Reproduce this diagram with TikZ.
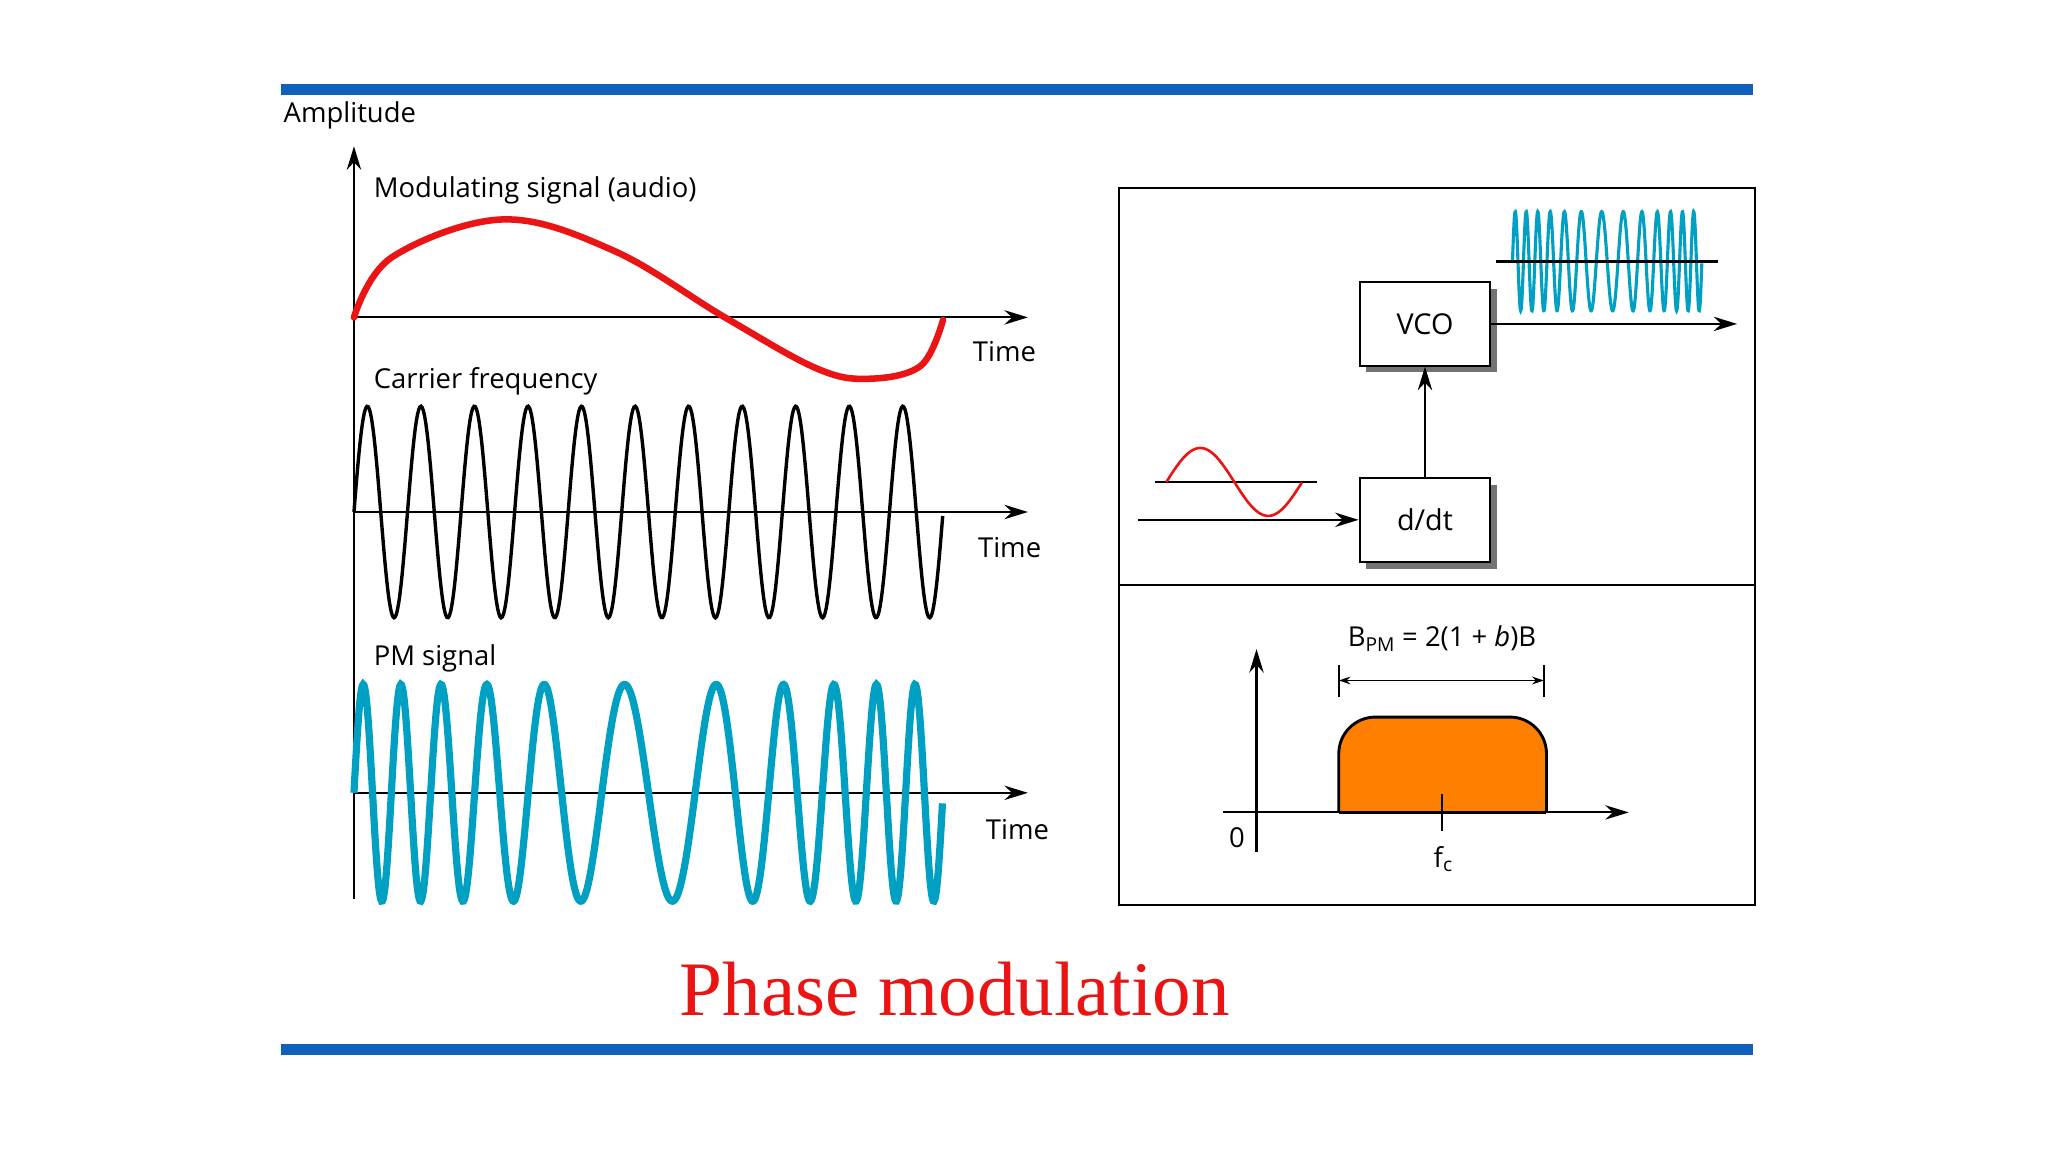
\documentclass[tikz,border=0pt]{standalone}
\usepackage{fontspec}
\setmainfont{Open Sans}
\newfontfamily\titlefont{Liberation Serif}
\usetikzlibrary{arrows.meta}
\definecolor{barblue}{RGB}{16,96,190}
\definecolor{pmcyan}{RGB}{0,160,195}
\definecolor{sigred}{RGB}{235,20,20}
\definecolor{specorange}{RGB}{255,128,0}
\tikzset{
 lbl/.style={font=\fontsize{21}{25}\selectfont, inner sep=0pt},
 axis/.style={line width=1.6pt, -{Stealth[length=18pt,width=11pt]}},
 blk/.style={draw, line width=1.6pt, fill=white, font=\fontsize{22}{26}\selectfont, minimum width=100pt, minimum height=64pt},
 shadow/.style={fill=black!55}
}
\begin{document}
\begin{tikzpicture}[x=1pt,y=-1pt]
\useasboundingbox (0,0) rectangle (1568,882);
\fill[white] (0,0) rectangle (1568,882);
% bars
\fill[barblue] (215,64) rectangle (1342,73);
\fill[barblue] (215,799) rectangle (1342,808);
\node[lbl, anchor=west] (amp) at (217,88) {Amplitude};
\coordinate (ybot) at (271,688); \coordinate (ytop) at (271,112);
\draw[axis] (ybot) -- (ytop);
% modulating
\node[lbl, anchor=west] (modl) at (286,146) {Modulating signal (audio)};
\coordinate (a1s) at (271,243); \coordinate (a1e) at (787,243);
\draw[axis] (a1s) -- (a1e);
\node[lbl] (t1) at (769,269) {Time};
\draw[sigred, line width=5pt, line cap=round] plot[smooth, tension=0.6] coordinates {(271,243) (300,197) (385,168) (470,192) (555,243) (625,282) (665,290) (705,280) (722,245)};
% carrier
\node[lbl, anchor=west] (carl) at (286,292) {Carrier frequency};
\coordinate (a2s) at (271,392); \coordinate (a2e) at (787,392);
\draw[axis] (a2s) -- (a2e);
\node[lbl] (t2) at (773,419) {Time};
\draw[black, line width=2.6pt] plot[domain=0:1, samples=500, variable=\t] ({271+451*\t}, {392-81*sin(3960*\t)});
% PM
\node[lbl, anchor=west] (pml) at (286,504) {PM signal};
\coordinate (a3s) at (271,607); \coordinate (a3e) at (787,607);
\draw[axis] (a3s) -- (a3e);
\node[lbl] (t3) at (779,635) {Time};
\draw[pmcyan, line width=5.5pt] plot[domain=0:1, samples=700, variable=\t] ({271+451*\t}, {607-83*sin(3960*\t+280*sin(360*\t))});
% right panel
\draw[line width=1.6pt] (857,144) rectangle (1344,693);
\draw[line width=1.6pt] (857,448) -- (1344,448);
\fill[shadow] (1046,221) rectangle (1146,285);
\node[blk] (vco) at (1091,248) {VCO};
\fill[shadow] (1046,371) rectangle (1146,436);
\node[blk] (ddt) at (1091,398) {d/dt};
\draw[axis] (ddt.north) -- (vco.south);
\coordinate (in) at (871,398);
\draw[axis] (in) -- (ddt.west);
\coordinate (out) at (1330,248);
\draw[axis] (vco.east) -- (out);
% small red
\draw[line width=1.6pt] (884,369) -- (1008,369);
\draw[sigred, line width=2pt] plot[domain=0:1, samples=100, variable=\t] ({893+104*\t}, {369-26*sin(360*\t)});
% small cyan
\draw[pmcyan, line width=2.4pt] plot[domain=0:1, samples=600, variable=\t] ({1158+145*\t}, {200-38*sin(4680*\t+250*sin(360*\t))});
\draw[line width=2pt] (1145,200) -- (1315,200);
% spectrum
\coordinate (sy0) at (962,652); \coordinate (sy1) at (962,497);
\draw[axis] (sy0) -- (sy1);
\coordinate (sx0) at (936,622); \coordinate (sx1) at (1247,622);
\draw[axis] (sx0) -- (sx1);
\node[lbl] (zero) at (947,641) {0};
\draw[line width=2.2pt, fill=specorange, rounded corners=28pt] (1025,622) -- (1025,549) -- (1184,549) -- (1184,622);
\draw[line width=2.2pt] (1025,622) -- (1184,622);
\draw[line width=1.2pt] (1104,608) -- (1104,636);
\node[lbl] (fc) at (1105,658) {f\textsubscript{c}};
\draw[line width=1.2pt] (1025,509) -- (1025,534);
\draw[line width=1.2pt] (1182,509) -- (1182,534);
\coordinate (dl) at (1025,521); \coordinate (dr) at (1182,521);
\draw[line width=1.2pt, {Stealth[length=9pt,width=6pt]}-{Stealth[length=9pt,width=6pt]}] (dl) -- (dr);
\node[lbl] (bpm) at (1104,489) {B\textsubscript{PM} = 2(1 + \textit{b})B};
% title
\node[font=\titlefont\fontsize{59}{66}\selectfont, text=sigred, inner sep=0pt] (title) at (731,757) {Phase modulation};
\end{tikzpicture}
\end{document}
